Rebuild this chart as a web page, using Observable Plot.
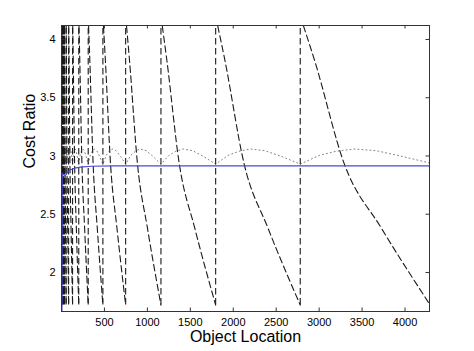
<!DOCTYPE html>
<html><head><meta charset="utf-8">
<script src="https://cdn.jsdelivr.net/npm/d3@7"></script>
<script src="https://cdn.jsdelivr.net/npm/@observablehq/plot@0.6"></script>
<style>body{margin:0;background:#fff} svg{display:block}</style>
</head><body><div id="chart"></div>
<script>
const xTicks = [500, 1000, 1500, 2000, 2500, 3000, 3500, 4000];
const yTicks = [2, 2.5, 3, 3.5, 4];

// dashed sawtooth: descending branches
const dashSegX = [
  [3.9, 4.1, 4.6, 5.2, 6],
  [6, 6.4, 7.1, 8.0, 9.4],
  [9.4, 10, 11.1, 12.6, 14.5],
  [14.5, 15.4, 17.2, 19.4, 22.5],
  [22.5, 23.9, 26.7, 30.2, 35],
  [35, 37.1, 41.5, 46.9, 54],
  [54, 57.2, 64, 72.4, 83],
  [83, 88, 98.4, 111.2, 129],
  [129, 136.7, 152.9, 172.9, 201],
  [201, 213, 238.2, 269.3, 311],
  [311, 329.7, 368.5, 416.7, 482],
  [482, 511, 571, 646, 747],
  [747, 792, 885, 1001, 1158],
  [1158, 1227, 1372, 1552, 1795],
  [1795, 1903, 2127, 2405, 2780],
  [2780, 2947, 3294, 3725, 4285]
];
const dashSegY = [
  [4.2, 3.82, 2.93, 2.38, 1.72],
  [4.2, 3.82, 2.93, 2.38, 1.72],
  [4.2, 3.82, 2.93, 2.38, 1.72],
  [4.2, 3.82, 2.93, 2.38, 1.72],
  [4.2, 3.82, 2.93, 2.38, 1.72],
  [4.2, 3.82, 2.93, 2.38, 1.72],
  [4.2, 3.82, 2.93, 2.38, 1.72],
  [4.2, 3.82, 2.93, 2.38, 1.72],
  [4.2, 3.82, 2.93, 2.38, 1.72],
  [4.2, 3.82, 2.93, 2.38, 1.72],
  [4.2, 3.82, 2.93, 2.38, 1.72],
  [4.2, 3.82, 2.93, 2.38, 1.72],
  [4.2, 3.82, 2.93, 2.38, 1.72],
  [4.2, 3.82, 2.93, 2.38, 1.72],
  [4.2, 3.82, 2.93, 2.38, 1.72],
  [4.2, 3.82, 2.93, 2.38, 1.73]
];
// vertical jumps of the dashed series
const jumpX = [6, 9.4, 14.5, 22.5, 35, 54, 83, 129, 201, 311, 482, 747, 1158, 1795, 2780];
const jumpLow = 1.72, jumpHigh = 4.2;

// dotted series
const dotX = [
  6, 7.35, 9.4, 11.5, 14.5, 17.8, 22.5, 27.6, 35, 43, 54,
  58, 62, 66, 71, 77, 83,
  90, 95, 102, 110, 119, 129,
  139, 148, 158, 170, 184, 201,
  217, 231, 246, 265, 287, 311,
  336, 358, 381, 411, 445, 482,
  521, 554, 590, 636, 689, 747,
  807, 859, 915, 986, 1068, 1158,
  1251, 1332, 1419, 1529, 1656, 1795,
  1939, 2064, 2199, 2369, 2567, 2780,
  3002, 3197, 3405, 3670, 3975, 4285
];
const dotY = [
  2.93, 3.06, 2.93, 3.06, 2.93, 3.06, 2.93, 3.06, 2.93, 3.06, 2.93,
  3.005, 3.04, 3.06, 3.045, 2.995, 2.93,
  3.005, 3.04, 3.06, 3.045, 2.995, 2.93,
  3.005, 3.04, 3.06, 3.045, 2.995, 2.93,
  3.005, 3.04, 3.06, 3.045, 2.995, 2.93,
  3.005, 3.04, 3.06, 3.045, 2.995, 2.93,
  3.005, 3.04, 3.06, 3.045, 2.995, 2.93,
  3.005, 3.04, 3.06, 3.045, 2.995, 2.93,
  3.005, 3.04, 3.06, 3.045, 2.995, 2.93,
  3.005, 3.04, 3.06, 3.045, 2.995, 2.93,
  3.005, 3.04, 3.06, 3.045, 2.995, 2.94
];

// blue solid series
const blueX = [5, 7, 12, 25, 45, 70, 100, 150, 220, 350, 600, 4285];
const blueY = [1.6, 2.8, 2.85, 2.84, 2.83, 2.86, 2.88, 2.895, 2.905, 2.912, 2.915, 2.915];

const dash = dashSegX.flatMap((xs, s) => xs.map((x, i) => ({x, y: dashSegY[s][i], s})));
const dot = dotX.map((x, i) => ({x, y: dotY[i]}));
const blue = blueX.map((x, i) => ({x, y: blueY[i]}));

const W = 474, H = 351, mL = 61, mR = 45, mT = 25, mB = 40;
const fw = W - mL - mR, fh = H - mT - mB, tl = 3.5;
const dashStyle = {stroke: "#1a1a1a", strokeWidth: 1.1, strokeDasharray: "6.5,3.5"};

const chart = Plot.plot({
  width: W, height: H,
  marginLeft: mL, marginRight: mR, marginTop: mT, marginBottom: mB,
  style: {fontFamily: "'Liberation Sans', Arial, sans-serif", fontSize: "11px", background: "#fff", color: "#000"},
  x: {domain: [0, 4285], axis: null},
  y: {domain: [1.665, 4.12], axis: null},
  marks: [
    Plot.line(dot, {x: "x", y: "y", stroke: "#808080", strokeWidth: 1, strokeDasharray: "1,3", clip: true}),
    Plot.ruleX(jumpX, {x: d => d, y1: jumpLow, y2: jumpHigh, ...dashStyle, clip: true}),
    Plot.line(dash, {x: "x", y: "y", z: "s", curve: "monotone-x", ...dashStyle, clip: true}),
    Plot.line(blue, {x: "x", y: "y", stroke: "#4848dc", strokeWidth: 1.2, clip: true}),
    Plot.frame({stroke: "#333", strokeWidth: 1}),
    Plot.tickX(xTicks, {x: d => d, insetTop: fh - tl, stroke: "#333"}),
    Plot.tickX(xTicks, {x: d => d, insetBottom: fh - tl, stroke: "#333"}),
    Plot.tickY(yTicks, {y: d => d, insetRight: fw - tl, stroke: "#333"}),
    Plot.tickY(yTicks, {y: d => d, insetLeft: fw - tl, stroke: "#333"}),
    Plot.axisX(xTicks, {anchor: "bottom", tickSize: 0, tickPadding: 7, tickFormat: d => `${d}`, label: null, fontSize: 11}),
    Plot.axisY(yTicks, {anchor: "left", tickSize: 0, tickPadding: 6, tickFormat: d => `${d}`, label: null, fontSize: 11}),
    Plot.text(["Object Location"], {frameAnchor: "bottom", dy: 30, lineAnchor: "bottom", fontSize: 16, fill: "#000"}),
    Plot.text(["Cost Ratio"], {frameAnchor: "left", dx: -26.5, rotate: -90, lineAnchor: "bottom", fontSize: 16, fill: "#000"})
  ]
});
document.getElementById("chart").appendChild(chart);
</script>
</body></html>
